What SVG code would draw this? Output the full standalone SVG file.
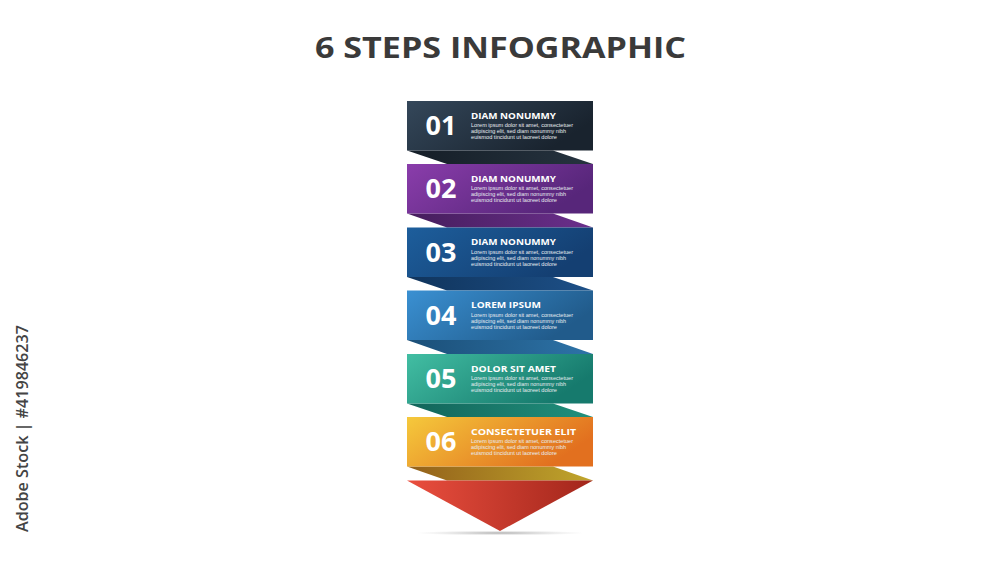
<svg xmlns="http://www.w3.org/2000/svg" width="1000" height="563" viewBox="0 0 1000 563">
<defs>
<linearGradient id="g1" x1="0" y1="0" x2="1" y2="0.4"><stop offset="0" stop-color="#34475a"/><stop offset="1" stop-color="#19232e"/></linearGradient>
<linearGradient id="g2" x1="0" y1="0" x2="1" y2="0.4"><stop offset="0" stop-color="#8a3dab"/><stop offset="1" stop-color="#57267a"/></linearGradient>
<linearGradient id="g3" x1="0" y1="0" x2="1" y2="0.4"><stop offset="0" stop-color="#1d5e9c"/><stop offset="1" stop-color="#143f72"/></linearGradient>
<linearGradient id="g4" x1="0" y1="0" x2="1" y2="0.4"><stop offset="0" stop-color="#3a90d2"/><stop offset="1" stop-color="#215b8b"/></linearGradient>
<linearGradient id="g5" x1="0" y1="0" x2="1" y2="0.4"><stop offset="0" stop-color="#42bea3"/><stop offset="1" stop-color="#167a6d"/></linearGradient>
<linearGradient id="g6" x1="0" y1="0" x2="1" y2="0.4"><stop offset="0" stop-color="#f5c93c"/><stop offset="1" stop-color="#e2701f"/></linearGradient>
<linearGradient id="g7" x1="0" y1="0" x2="1" y2="0"><stop offset="0" stop-color="#ea4e3e"/><stop offset="1" stop-color="#a2261b"/></linearGradient>
<linearGradient id="f1" x1="0" y1="0" x2="1" y2="0"><stop offset="0" stop-color="#151e27"/><stop offset="1" stop-color="#26333f"/></linearGradient>
<linearGradient id="f2" x1="0" y1="0" x2="1" y2="0"><stop offset="0" stop-color="#451d5c"/><stop offset="1" stop-color="#6b2f8c"/></linearGradient>
<linearGradient id="f3" x1="0" y1="0" x2="1" y2="0"><stop offset="0" stop-color="#10345c"/><stop offset="1" stop-color="#1d5088"/></linearGradient>
<linearGradient id="f4" x1="0" y1="0" x2="1" y2="0"><stop offset="0" stop-color="#1b4f78"/><stop offset="1" stop-color="#2d73a8"/></linearGradient>
<linearGradient id="f5" x1="0" y1="0" x2="1" y2="0"><stop offset="0" stop-color="#12645a"/><stop offset="1" stop-color="#21907c"/></linearGradient>
<linearGradient id="f6" x1="0" y1="0" x2="1" y2="0"><stop offset="0" stop-color="#93601a"/><stop offset="1" stop-color="#c0a62c"/></linearGradient>
<radialGradient id="sh" cx="0.5" cy="0.5" r="0.5"><stop offset="0" stop-color="#9a9a9a" stop-opacity="0.8"/><stop offset="1" stop-color="#cccccc" stop-opacity="0"/></radialGradient>
</defs>
<style>
.num{font-family:"Open Sans","Liberation Sans",sans-serif;font-weight:700;font-size:27px;fill:#ffffff;text-anchor:middle}
.hd{font-family:"Open Sans","Liberation Sans",sans-serif;font-weight:700;font-size:9px;fill:#ffffff}
.bd{font-family:"Liberation Sans",Arial,sans-serif;font-size:5.3px;fill:#e8ecf0}
.title{font-family:"Open Sans","Liberation Sans",sans-serif;font-weight:700;font-size:29px;fill:#3a3a3a}
.wm{font-family:"Open Sans","Liberation Sans",sans-serif;font-weight:600;font-size:17px;fill:#444444}
</style>
<rect width="1000" height="563" fill="#ffffff"/>
<text class="title" x="315" y="58" textLength="371" lengthAdjust="spacingAndGlyphs">6 STEPS INFOGRAPHIC</text>
<text class="wm" transform="translate(28,532) rotate(-90)" textLength="207" lengthAdjust="spacingAndGlyphs">Adobe Stock | #419846237</text>

<g id="connectors">
<polygon points="407,150.5 553,150.5 593,164 447,164" fill="url(#f1)"/>
<polygon points="407,213.5 553,213.5 593,227.5 447,227.5" fill="url(#f2)"/>
<polygon points="407,277 553,277 593,290.5 447,290.5" fill="url(#f3)"/>
<polygon points="407,340 553,340 593,354 447,354" fill="url(#f4)"/>
<polygon points="407,403.5 553,403.5 593,417 447,417" fill="url(#f5)"/>
<polygon points="407,466.5 553,466.5 593,480.5 447,480.5" fill="url(#f6)"/>
</g>

<g id="step1">
<rect x="407" y="101" width="186" height="49.5" fill="url(#g1)"/>
<text class="num" x="441" y="135">01</text>
<text class="hd" x="471" y="118.5" textLength="85" lengthAdjust="spacingAndGlyphs">DIAM NONUMMY</text>
<text class="bd" x="471" y="127" textLength="102" lengthAdjust="spacingAndGlyphs">Lorem ipsum dolor sit amet, consectetuer</text>
<text class="bd" x="471" y="133.2" textLength="95" lengthAdjust="spacingAndGlyphs">adipiscing elit, sed diam nonummy nibh</text>
<text class="bd" x="471" y="139.4" textLength="86" lengthAdjust="spacingAndGlyphs">euismod tincidunt ut laoreet dolore</text>
</g>
<g id="step2">
<rect x="407" y="164" width="186" height="49.5" fill="url(#g2)"/>
<text class="num" x="441" y="198">02</text>
<text class="hd" x="471" y="181.5" textLength="85" lengthAdjust="spacingAndGlyphs">DIAM NONUMMY</text>
<text class="bd" x="471" y="190" textLength="102" lengthAdjust="spacingAndGlyphs">Lorem ipsum dolor sit amet, consectetuer</text>
<text class="bd" x="471" y="196.2" textLength="95" lengthAdjust="spacingAndGlyphs">adipiscing elit, sed diam nonummy nibh</text>
<text class="bd" x="471" y="202.4" textLength="86" lengthAdjust="spacingAndGlyphs">euismod tincidunt ut laoreet dolore</text>
</g>
<g id="step3">
<rect x="407" y="227.5" width="186" height="49.5" fill="url(#g3)"/>
<text class="num" x="441" y="261.5">03</text>
<text class="hd" x="471" y="245" textLength="85" lengthAdjust="spacingAndGlyphs">DIAM NONUMMY</text>
<text class="bd" x="471" y="253.5" textLength="102" lengthAdjust="spacingAndGlyphs">Lorem ipsum dolor sit amet, consectetuer</text>
<text class="bd" x="471" y="259.7" textLength="95" lengthAdjust="spacingAndGlyphs">adipiscing elit, sed diam nonummy nibh</text>
<text class="bd" x="471" y="265.9" textLength="86" lengthAdjust="spacingAndGlyphs">euismod tincidunt ut laoreet dolore</text>
</g>
<g id="step4">
<rect x="407" y="290.5" width="186" height="49.5" fill="url(#g4)"/>
<text class="num" x="441" y="324.5">04</text>
<text class="hd" x="471" y="308" textLength="70" lengthAdjust="spacingAndGlyphs">LOREM IPSUM</text>
<text class="bd" x="471" y="316.5" textLength="102" lengthAdjust="spacingAndGlyphs">Lorem ipsum dolor sit amet, consectetuer</text>
<text class="bd" x="471" y="322.7" textLength="95" lengthAdjust="spacingAndGlyphs">adipiscing elit, sed diam nonummy nibh</text>
<text class="bd" x="471" y="328.9" textLength="86" lengthAdjust="spacingAndGlyphs">euismod tincidunt ut laoreet dolore</text>
</g>
<g id="step5">
<rect x="407" y="354" width="186" height="49.5" fill="url(#g5)"/>
<text class="num" x="441" y="388">05</text>
<text class="hd" x="471" y="371.5" textLength="85" lengthAdjust="spacingAndGlyphs">DOLOR SIT AMET</text>
<text class="bd" x="471" y="380" textLength="102" lengthAdjust="spacingAndGlyphs">Lorem ipsum dolor sit amet, consectetuer</text>
<text class="bd" x="471" y="386.2" textLength="95" lengthAdjust="spacingAndGlyphs">adipiscing elit, sed diam nonummy nibh</text>
<text class="bd" x="471" y="392.4" textLength="86" lengthAdjust="spacingAndGlyphs">euismod tincidunt ut laoreet dolore</text>
</g>
<g id="step6">
<rect x="407" y="417" width="186" height="49.5" fill="url(#g6)"/>
<text class="num" x="441" y="451">06</text>
<text class="hd" x="471" y="434.5" textLength="105" lengthAdjust="spacingAndGlyphs">CONSECTETUER ELIT</text>
<text class="bd" x="471" y="443" textLength="102" lengthAdjust="spacingAndGlyphs">Lorem ipsum dolor sit amet, consectetuer</text>
<text class="bd" x="471" y="449.2" textLength="95" lengthAdjust="spacingAndGlyphs">adipiscing elit, sed diam nonummy nibh</text>
<text class="bd" x="471" y="455.4" textLength="86" lengthAdjust="spacingAndGlyphs">euismod tincidunt ut laoreet dolore</text>
</g>
<g id="arrow">
<ellipse cx="500" cy="533" rx="85" ry="2.5" fill="url(#sh)"/>
<polygon points="407,480.5 593,480.5 500,531" fill="url(#g7)"/>
</g>
</svg>
